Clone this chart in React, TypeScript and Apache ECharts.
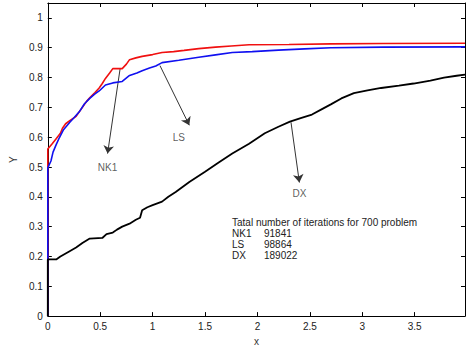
import React, { useEffect, useRef } from "react";
import * as echarts from "echarts";

const nk1: [number, number][] = [
  [0, 0], [0, 0.56], [0.04, 0.577], [0.08, 0.595], [0.12, 0.613], [0.14, 0.63], [0.17, 0.645],
  [0.22, 0.658], [0.27, 0.67], [0.3, 0.685], [0.33, 0.7], [0.37, 0.72], [0.4, 0.732],
  [0.45, 0.75], [0.49, 0.765], [0.52, 0.78], [0.55, 0.797], [0.59, 0.815], [0.62, 0.83],
  [0.71, 0.83], [0.75, 0.845], [0.78, 0.86], [0.84, 0.866], [0.9, 0.871], [1.0, 0.877],
  [1.09, 0.884], [1.2, 0.887], [1.3, 0.891], [1.44, 0.897], [1.6, 0.902], [1.75, 0.906],
  [1.92, 0.91], [2.3, 0.911], [2.7, 0.913], [3.2, 0.914], [3.98, 0.915],
];

const ls: [number, number][] = [
  [0, 0], [0, 0.497], [0.03, 0.52], [0.05, 0.55], [0.08, 0.575], [0.11, 0.598], [0.15, 0.625],
  [0.21, 0.65], [0.25, 0.665], [0.3, 0.685], [0.35, 0.712], [0.4, 0.73], [0.45, 0.745],
  [0.49, 0.755], [0.55, 0.775], [0.62, 0.782], [0.71, 0.787], [0.78, 0.807], [0.85, 0.815],
  [0.9, 0.823], [0.97, 0.832], [1.03, 0.839], [1.09, 0.85], [1.25, 0.858], [1.44, 0.868],
  [1.6, 0.876], [1.76, 0.884], [1.95, 0.887], [2.2, 0.892], [2.45, 0.896], [2.7, 0.9],
  [3.2, 0.902], [3.98, 0.903],
];

const dx: [number, number][] = [
  [0, 0], [0, 0.19], [0.08, 0.19], [0.12, 0.2], [0.2, 0.216], [0.27, 0.23], [0.33, 0.245],
  [0.4, 0.26], [0.52, 0.262], [0.56, 0.275], [0.62, 0.28], [0.66, 0.29], [0.71, 0.3],
  [0.78, 0.31], [0.84, 0.323], [0.88, 0.33], [0.9, 0.355], [0.95, 0.365], [1.0, 0.372],
  [1.09, 0.384], [1.15, 0.4], [1.22, 0.416], [1.35, 0.45], [1.5, 0.484], [1.63, 0.515],
  [1.76, 0.545], [1.92, 0.578], [2.07, 0.613], [2.2, 0.635], [2.31, 0.652], [2.42, 0.665],
  [2.52, 0.676], [2.62, 0.695], [2.7, 0.71], [2.8, 0.73], [2.92, 0.748], [3.05, 0.757],
  [3.18, 0.765], [3.35, 0.773], [3.49, 0.78], [3.65, 0.79], [3.78, 0.8], [3.9, 0.806],
  [3.98, 0.81],
];

const arrowFrom: [number, number][] = [[0.69, 0.83], [1.07, 0.84], [2.32, 0.65]];
const arrowTo: [number, number][] = [[0.57, 0.545], [1.35, 0.64], [2.4, 0.448]];
const curveLabels = ["NK1", "LS", "DX"];
const labelPos: [number, number][] = [[0.57, 0.5], [1.25, 0.6], [2.4, 0.41]];

const noteTitle = "Tatal number of iterations for 700 problem";
const noteNames = ["NK1", "LS", "DX"];
const noteValues = ["91841", "98864", "189022"];

const FONT = "'Liberation Sans', Arial, sans-serif";

export default function App() {
  const ref = useRef<HTMLDivElement>(null);
  useEffect(() => {
    if (!ref.current) return;
    const chart = echarts.init(ref.current, undefined, { renderer: "svg" });
    const axisCommon = {
      type: "value" as const,
      axisLine: { show: true, onZero: false, lineStyle: { color: "#000", width: 1 } },
      axisTick: { show: true, inside: true, length: 4, lineStyle: { color: "#000" } },
      splitLine: { show: false },
    };
    const graphics: any[] = [
      {
        type: "text",
        left: 232,
        top: 217,
        style: { text: noteTitle, fontSize: 10, fill: "#222", fontFamily: FONT },
      },
    ];
    noteNames.forEach((n, i) => {
      graphics.push({
        type: "text",
        left: 232,
        top: 228 + i * 11,
        style: { text: n, fontSize: 10, fill: "#222", fontFamily: FONT },
      });
      graphics.push({
        type: "text",
        left: 264,
        top: 228 + i * 11,
        style: { text: noteValues[i], fontSize: 10, fill: "#222", fontFamily: FONT },
      });
    });
    chart.setOption({
      animation: false,
      backgroundColor: "#fff",
      textStyle: { fontFamily: FONT },
      grid: { left: 45, right: 9, top: 3, bottom: 24, containLabel: false },
      xAxis: [
        {
          ...axisCommon,
          min: 0,
          max: 3.98,
          interval: 0.5,
          position: "bottom",
          name: "x",
          nameLocation: "middle",
          nameGap: 13,
          nameTextStyle: { fontSize: 10, color: "#333", fontFamily: FONT },
          axisLabel: { fontSize: 10, color: "#222", margin: 5, showMaxLabel: false, fontFamily: FONT },
        },
        {
          ...axisCommon,
          min: 0,
          max: 3.98,
          interval: 0.5,
          position: "top",
          axisLabel: { show: false },
        },
      ],
      yAxis: [
        {
          ...axisCommon,
          min: 0,
          max: 1.05,
          interval: 0.1,
          position: "left",
          name: "Y",
          nameLocation: "middle",
          nameGap: 25,
          nameTextStyle: { fontSize: 10, color: "#333", fontFamily: FONT },
          axisLabel: { fontSize: 10, color: "#222", margin: 5, showMaxLabel: false, fontFamily: FONT },
        },
        {
          ...axisCommon,
          min: 0,
          max: 1.05,
          interval: 0.1,
          position: "right",
          axisLabel: { show: false },
        },
      ],
      series: [
        {
          type: "line",
          name: "NK1",
          data: nk1,
          showSymbol: false,
          lineStyle: { color: "#f01010", width: 1.6 },
          itemStyle: { color: "#f01010" },
        },
        {
          type: "line",
          name: "LS",
          data: ls,
          showSymbol: false,
          lineStyle: { color: "#1010f0", width: 1.6 },
          itemStyle: { color: "#1010f0" },
        },
        {
          type: "line",
          name: "DX",
          data: dx,
          showSymbol: false,
          lineStyle: { color: "#000", width: 1.8 },
          itemStyle: { color: "#000" },
        },
        {
          type: "lines",
          coordinateSystem: "cartesian2d",
          symbol: ["none", "arrow"],
          symbolSize: 8,
          lineStyle: { color: "#333", width: 1, opacity: 1 },
          itemStyle: { color: "#111" },
          data: arrowFrom.map((f, i) => ({ coords: [f, arrowTo[i]] })),
        },
        {
          type: "scatter",
          symbolSize: 0,
          itemStyle: { color: "#333" },
          data: labelPos.map((p, i) => ({ value: p, name: curveLabels[i] })),
          label: {
            show: true,
            position: "inside",
            formatter: (p: any) => p.name,
            fontSize: 10,
            color: "#333",
            fontFamily: FONT,
          },
        },
      ],
      graphic: graphics,
    });
    return () => chart.dispose();
  }, []);
  return (
    <div
      ref={ref}
      style={{ position: "fixed", left: 0, top: 0, width: 474, height: 351, background: "#fff" }}
    />
  );
}
